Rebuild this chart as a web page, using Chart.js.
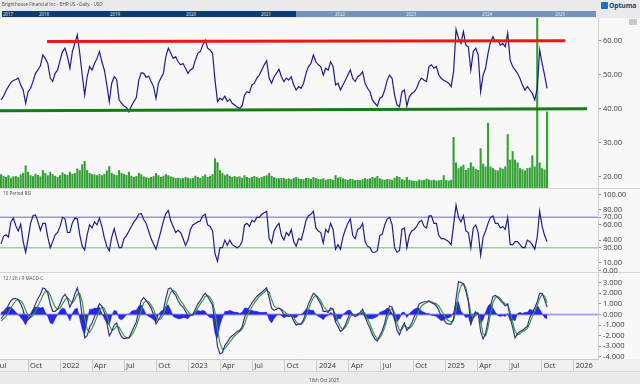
<!DOCTYPE html>
<html>
<head>
<meta charset="utf-8">
<title>BHF daily</title>
<script src="https://cdn.jsdelivr.net/npm/chart.js@4.4.1/dist/chart.umd.min.js"></script>
<style>
  body { margin: 0; width: 640px; height: 384px; position: relative; overflow: hidden; background: #eaeaea; font-family: "Open Sans", sans-serif; }
  #chart { position: absolute; left: 0; top: 0; }
  .tiny { position: absolute; font-size: 4.6px; line-height: 6px; color: #4a4a4a; white-space: nowrap; z-index: 2; }
  #nav { position: absolute; left: 2px; top: 11px; width: 594px; height: 6px; background: #7592b9; }
  #nav .past { position: absolute; left: 0; top: 0; width: 294px; height: 6px; background: #0c3b7b; }
  #nav span { position: absolute; top: 0; font-size: 4.4px; line-height: 6px; color: #e9eef7; }
  #logo { position: absolute; left: 601px; top: 1px; font-size: 6.8px; line-height: 9px; font-weight: 700; color: #1b3d78; white-space: nowrap; letter-spacing: -0.1px; }
  #logo i { display: inline-block; width: 7px; height: 7px; margin-right: 1px; vertical-align: -1px; background: #1f6fc4; border-radius: 1px; }
  #lock { position: absolute; left: 629px; top: 19px; width: 8px; height: 6px; background: #c9c9c9; z-index: 2; }
</style>
</head>
<body>
<div class="tiny" style="left:2px;top:1px;">Brighthouse Financial Inc - BHF:US - Daily - USD</div>
<div id="nav">
  <div class="past"></div>
  <span style="left:1px">2017</span><span style="left:37px">2018</span><span style="left:108px">2019</span>
  <span style="left:184px">2020</span><span style="left:259px">2021</span><span style="left:333px">2022</span>
  <span style="left:404px">2023</span><span style="left:480px">2024</span><span style="left:553px">2025</span>
</div>
<div id="logo"><i></i>Optuma</div>
<div id="lock"></div>
<canvas id="chart" width="640" height="384"></canvas>
<div class="tiny" style="left:3px;top:190px;">10 Period RSI</div>
<div class="tiny" style="left:3px;top:275px;">12 / 26 / 9 MACD-C</div>
<div class="tiny" style="left:309px;top:377px;">16th Oct 2025</div>
<script>
// weekly closes, first week ending 16 Jul 2021
const weekStart = '2021-07-16';

const price = [
  42.6, 43.7, 45.3, 46.5, 47.7, 48.3, 48.6, 49.0, 47.0, 45.5,
  41.6, 45.0, 46.0, 48.0, 50.4, 51.4, 52.6, 55.8, 54.8, 53.3,
  49.0, 48.0, 50.4, 51.4, 54.3, 56.8, 57.8, 55.3, 51.9, 56.8,
  59.2, 61.7, 56.3, 49.9, 44.0, 49.4, 52.4, 51.4, 53.3, 54.8,
  56.8, 53.8, 51.4, 47.0, 42.1, 47.5, 49.4, 48.6, 42.6, 41.6,
  40.8, 40.4, 39.1, 40.8, 42.1, 43.3, 48.4, 50.6, 50.4, 49.2,
  49.6, 48.0, 46.5, 43.0, 47.5, 49.0, 50.4, 55.3, 57.8, 56.3,
  54.8, 55.3, 53.8, 52.9, 53.3, 51.9, 50.4, 51.4, 51.9, 54.3,
  56.3, 56.8, 58.7, 60.2, 57.8, 57.3, 56.3, 48.4, 42.1, 43.1,
  42.6, 43.7, 42.1, 42.8, 41.6, 41.1, 40.4, 40.1, 40.8, 44.0,
  45.0, 44.7, 47.0, 47.5, 49.0, 49.9, 51.4, 52.9, 54.1, 49.0,
  47.5, 49.4, 50.4, 51.6, 49.4, 48.0, 49.0, 48.4, 49.4, 47.0,
  45.5, 46.5, 46.0, 47.5, 50.4, 52.4, 53.3, 55.8, 53.8, 52.9,
  52.4, 49.9, 51.9, 51.4, 53.8, 52.4, 47.0, 47.5, 45.5, 47.0,
  48.4, 49.9, 51.4, 48.9, 48.0, 49.4, 49.9, 50.9, 47.5, 46.0,
  45.0, 42.6, 41.6, 40.8, 43.1, 43.5, 45.5, 48.4, 49.9, 48.9,
  44.0, 41.1, 40.6, 45.0, 45.5, 40.8, 43.5, 44.5, 45.0, 46.0,
  48.0, 49.0, 48.4, 48.0, 52.4, 52.9, 51.9, 52.4, 49.9, 48.9,
  48.4, 48.0, 47.5, 46.5, 50.9, 63.3, 60.7, 59.2, 62.7, 58.7,
  58.2, 51.4, 56.8, 57.8, 55.8, 45.0, 49.9, 51.9, 56.3, 59.7,
  61.2, 59.7, 60.2, 58.7, 59.2, 58.2, 62.2, 54.3, 52.4, 51.4,
  50.4, 48.9, 47.0, 45.5, 46.5, 45.5, 44.5, 42.6, 46.0, 57.3,
  53.3, 49.9, 46.0
];

// thousands of shares
const volume = [
  490, 430, 390, 450, 360, 410, 420, 380, 480, 530,
  800, 570, 450, 420, 500, 460, 410, 630, 530, 450,
  570, 490, 430, 390, 450, 550, 490, 460, 570, 500,
  530, 690, 630, 840, 950, 630, 530, 490, 480, 450,
  490, 450, 500, 620, 770, 530, 480, 450, 630, 530,
  490, 460, 570, 430, 390, 420, 530, 480, 410, 380,
  360, 390, 420, 530, 450, 390, 430, 490, 450, 410,
  380, 350, 360, 340, 350, 390, 360, 340, 350, 430,
  390, 360, 420, 480, 390, 430, 490, 1050, 910, 630,
  530, 450, 490, 430, 390, 420, 380, 410, 360, 450,
  390, 360, 390, 420, 380, 360, 390, 420, 450, 530,
  430, 380, 350, 340, 360, 350, 320, 340, 310, 360,
  390, 340, 320, 310, 360, 350, 320, 390, 350, 320,
  310, 340, 290, 310, 320, 290, 450, 360, 390, 340,
  310, 290, 320, 310, 280, 290, 280, 310, 350, 320,
  340, 390, 360, 420, 340, 310, 290, 320, 310, 290,
  360, 420, 390, 310, 290, 390, 290, 270, 250, 240,
  300, 270, 290, 330, 300, 270, 290, 260, 270, 290,
  450, 280, 260, 290, 1800, 900, 700, 760, 820, 640,
  700, 900, 760, 680, 640, 1400, 860, 760, 2300, 760,
  700, 640, 620, 720, 680, 760, 1900, 1000, 1300, 1000,
  900, 700, 660, 620, 700, 720, 1150, 760, 7000, 900,
  700, 650, 2700
];

const rsi = [
  35, 45, 47, 44, 64, 69, 59, 52, 61, 38,
  24, 42, 62, 72, 73, 64, 53, 62, 62, 44,
  30, 38, 47, 50, 58, 70, 68, 50, 50, 63,
  69, 68, 47, 32, 27, 47, 60, 56, 64, 60,
  69, 58, 43, 32, 26, 44, 55, 42, 30, 30,
  42, 46, 52, 58, 64, 68, 74, 75, 67, 62,
  52, 42, 35, 28, 40, 52, 65, 75, 79, 65,
  58, 50, 53, 50, 42, 33, 40, 54, 60, 62,
  64, 65, 72, 74, 60, 58, 52, 22, 12, 30,
  30, 40, 33, 40, 34, 32, 30, 32, 38, 60,
  62, 58, 66, 64, 70, 70, 74, 76, 78, 42,
  36, 52, 58, 62, 46, 40, 50, 46, 54, 38,
  32, 42, 40, 52, 66, 72, 74, 78, 56, 52,
  50, 36, 54, 50, 62, 54, 28, 34, 28, 44,
  54, 62, 68, 46, 42, 54, 56, 62, 38, 32,
  30, 24, 24, 26, 46, 48, 60, 68, 70, 60,
  30, 24, 26, 54, 56, 30, 46, 52, 54, 58,
  64, 66, 58, 56, 72, 72, 62, 62, 46, 42,
  42, 40, 38, 34, 60, 86, 70, 64, 72, 52,
  50, 30, 56, 60, 50, 20, 44, 52, 62, 70,
  72, 62, 62, 56, 58, 54, 70, 34, 34, 38,
  38, 34, 30, 30, 40, 38, 34, 28, 44, 78,
  58, 46, 38
];

const macd = [
  -0.4, -0.1, 0.4, 0.9, 1.3, 1.5, 1.5, 1.4, 1.0, 0.4,
  -0.6, -0.5, -0.2, 0.4, 1.0, 1.5, 1.9, 2.5, 2.4, 2.0,
  1.0, 0.3, 0.3, 0.5, 1.0, 1.6, 1.9, 1.5, 0.7, 1.2,
  1.9, 2.5, 1.6, -0.2, -2.2, -2.0, -1.2, -0.8, -0.2, 0.4,
  1.0, 0.8, 0.2, -0.8, -2.0, -1.6, -1.0, -0.8, -1.6, -2.1,
  -2.3, -2.2, -2.2, -1.7, -1.2, -0.7, 0.4, 1.3, 1.6, 1.3,
  1.0, 0.6, 0.0, -0.9, -0.5, -0.1, 0.4, 1.5, 2.4, 2.5,
  2.1, 1.8, 1.3, 0.9, 0.7, 0.3, -0.1, -0.1, 0.0, 0.5,
  1.0, 1.3, 1.7, 2.0, 1.7, 1.3, 0.9, -1.0, -3.0, -3.7,
  -3.6, -2.9, -2.6, -2.2, -2.0, -1.8, -1.6, -1.5, -1.2, -0.3,
  0.4, 0.7, 1.1, 1.4, 1.7, 1.9, 2.1, 2.3, 2.5, 1.6,
  0.6, 0.4, 0.5, 0.6, 0.4, 0.0, -0.1, -0.2, -0.1, -0.6,
  -1.0, -0.9, -0.9, -0.5, 0.3, 1.0, 1.5, 2.0, 1.8, 1.4,
  1.0, 0.3, 0.3, 0.2, 0.6, 0.5, -0.7, -1.1, -1.6, -1.4,
  -1.0, -0.4, 0.2, 0.0, -0.2, 0.0, 0.2, 0.5, -0.2, -0.8,
  -1.3, -1.9, -2.3, -2.5, -2.0, -1.5, -0.8, 0.2, 0.8, 0.7,
  -0.4, -1.5, -1.9, -1.2, -0.8, -1.5, -1.2, -0.8, -0.2, 0.4,
  1.0, 1.1, 1.2, 1.2, 1.3, 1.1, 1.0, 0.8, 0.4, -0.2,
  -0.5, -0.8, -0.9, -0.9, -0.4, 1.5, 3.1, 3.0, 2.9, 2.2,
  1.2, -0.9, -0.3, 0.2, 0.1, -1.6, -2.3, -1.8, -0.6, 0.8,
  1.7, 1.8, 1.6, 1.3, 1.1, 0.8, 1.0, -0.3, -1.2, -2.2,
  -1.8, -1.6, -1.5, -1.3, -1.1, -0.3, 0.2, 0.6, 1.2, 2.0,
  2.0, 1.4, 0.7
];

const signal = [
  -0.6, -0.4, -0.2, 0.2, 0.6, 1.0, 1.3, 1.4, 1.3, 1.0,
  0.4, -0.1, -0.3, -0.1, 0.3, 0.8, 1.3, 1.8, 2.2, 2.2,
  1.8, 1.2, 0.7, 0.5, 0.6, 1.0, 1.4, 1.6, 1.3, 1.1,
  1.4, 1.9, 2.0, 1.2, -0.3, -1.4, -1.7, -1.3, -0.8, -0.2,
  0.3, 0.7, 0.6, 0.0, -1.0, -1.5, -1.4, -1.1, -1.2, -1.6,
  -2.0, -2.2, -2.2, -2.0, -1.6, -1.1, -0.4, 0.4, 1.1, 1.3,
  1.2, 0.9, 0.5, -0.2, -0.5, -0.4, 0.0, 0.7, 1.5, 2.1,
  2.3, 2.1, 1.7, 1.3, 1.0, 0.6, 0.3, 0.0, -0.1, 0.2,
  0.6, 1.0, 1.3, 1.7, 1.8, 1.6, 1.2, 0.2, -1.4, -2.7,
  -3.3, -3.2, -2.9, -2.6, -2.3, -2.0, -1.8, -1.6, -1.4, -0.9,
  -0.2, 0.3, 0.7, 1.1, 1.4, 1.7, 1.9, 2.1, 2.3, 2.1,
  1.4, 0.8, 0.6, 0.6, 0.5, 0.3, 0.1, -0.1, -0.1, -0.3,
  -0.7, -0.9, -0.9, -0.7, -0.2, 0.5, 1.1, 1.6, 1.8, 1.6,
  1.3, 0.8, 0.5, 0.3, 0.4, 0.5, 0.0, -0.7, -1.2, -1.4,
  -1.2, -0.8, -0.2, 0.0, -0.1, -0.1, 0.1, 0.3, 0.1, -0.4,
  -0.9, -1.5, -2.0, -2.3, -2.2, -1.8, -1.2, -0.4, 0.3, 0.6,
  0.2, -0.8, -1.5, -1.4, -1.0, -1.2, -1.3, -1.1, -0.7, -0.2,
  0.4, 0.8, 1.0, 1.1, 1.2, 1.2, 1.1, 1.0, 0.8, 0.4,
  0.0, -0.4, -0.6, -0.7, -0.6, 0.4, 1.9, 2.7, 2.9, 2.5,
  1.4, 0.1, -0.3, -0.1, 0.1, -0.7, -1.8, -2.0, -1.2, 0.0,
  1.1, 1.6, 1.7, 1.5, 1.2, 1.0, 0.9, 0.3, -0.7, -1.6,
  -1.9, -1.8, -1.6, -1.5, -1.3, -0.8, -0.2, 0.3, 0.8, 1.5,
  1.9, 1.7, 1.1
];

const histogram = [
  0.2, 0.3, 0.6, 0.7, 0.7, 0.5, 0.2, 0.0, -0.3, -0.6,
  -1.0, -0.4, 0.1, 0.5, 0.7, 0.7, 0.6, 0.7, 0.2, -0.2,
  -0.8, -0.9, -0.4, 0.0, 0.4, 0.6, 0.5, -0.1, -0.6, 0.1,
  0.5, 0.6, -0.4, -1.4, -1.9, -0.6, 0.5, 0.5, 0.6, 0.6,
  0.7, 0.1, -0.4, -0.8, -1.0, -0.1, 0.4, 0.3, -0.4, -0.5,
  -0.3, 0.0, 0.0, 0.3, 0.4, 0.4, 0.8, 0.9, 0.5, 0.0,
  -0.2, -0.3, -0.5, -0.7, 0.0, 0.3, 0.4, 0.8, 0.9, 0.4,
  -0.2, -0.3, -0.4, -0.4, -0.3, -0.3, -0.4, -0.1, 0.1, 0.3,
  0.4, 0.3, 0.4, 0.3, -0.1, -0.3, -0.3, -1.8, -2.2, -1.0,
  -0.3, 0.3, 0.3, 0.4, 0.3, 0.2, 0.2, 0.1, 0.2, 0.6,
  0.6, 0.4, 0.4, 0.3, 0.3, 0.2, 0.2, 0.2, 0.2, -0.5,
  -0.8, -0.4, -0.1, 0.0, -0.1, -0.3, -0.2, -0.1, 0.0, -0.3,
  -0.3, 0.0, 0.0, 0.2, 0.5, 0.5, 0.4, 0.4, 0.0, -0.2,
  -0.3, -0.5, -0.2, -0.1, 0.2, 0.0, -0.7, -0.4, -0.4, 0.0,
  0.2, 0.4, 0.4, 0.0, -0.1, 0.1, 0.1, 0.2, -0.3, -0.4,
  -0.4, -0.4, -0.3, -0.2, 0.2, 0.3, 0.4, 0.6, 0.5, 0.1,
  -0.6, -0.7, -0.4, 0.2, 0.2, -0.3, 0.1, 0.3, 0.5, 0.6,
  0.6, 0.3, 0.2, 0.1, 0.1, -0.1, -0.1, -0.2, -0.4, -0.6,
  -0.5, -0.4, -0.3, -0.2, 0.2, 1.1, 1.2, 0.3, 0.0, -0.3,
  -0.2, -1.0, 0.0, 0.3, 0.0, -0.9, -0.5, 0.2, 0.8, 1.0,
  0.6, 0.2, -0.1, -0.2, -0.1, -0.2, 0.1, -0.6, -0.5, -0.6,
  0.1, 0.2, 0.1, 0.2, 0.2, 0.5, 0.4, 0.3, 0.9, 0.5,
  0.1, -0.3, -0.4
];

// trend lines drawn on the price panel
const resistanceDates = ['2021-11-24', '2025-12-08'];
const resistanceLevels = [59.8, 60.0];
const supportDates = ['2021-07-01', '2026-02-08'];
const supportLevels = [39.4, 40.0];

const rsiLevels = [70, 30];
const priceTicks = [20, 30, 40, 50, 60];
const rsiTicks = [0, 10, 30, 40, 60, 70, 80, 100];
const macdTicks = [-4, -3, -2, -1, 0, 1, 2, 3];

const xRange = ['2021-07-13', '2026-03-11'];
const xTickDates = ['2021-07-01', '2021-10-01', '2022-01-01', '2022-04-01', '2022-07-01', '2022-10-01',
  '2023-01-01', '2023-04-01', '2023-07-01', '2023-10-01', '2024-01-01', '2024-04-01', '2024-07-01',
  '2024-10-01', '2025-01-01', '2025-04-01', '2025-07-01', '2025-10-01', '2026-01-01'];
const xTickLabels = ['Jul', 'Oct', '2022', 'Apr', 'Jul', 'Oct', '2023', 'Apr', 'Jul', 'Oct', '2024',
  'Apr', 'Jul', 'Oct', '2025', 'Apr', 'Jul', 'Oct', '2026'];


const WEEK = 7 * 86400000;
const t0 = Date.parse(weekStart);
const xMin = Date.parse(xRange[0]);
const xMax = Date.parse(xRange[1]);

function weekly(values) {
    return values.map((v, i) => ({ x: t0 + i * WEEK, y: v }));
}

function segment(dates, levels) {
    return dates.map((d, i) => ({ x: Date.parse(d), y: levels[i] }));
}

function level(v) {
    return [{ x: xMin, y: v }, { x: xMax, y: v }];
}

// right hand axes, one per panel, stacked top to bottom
function panelAxis(min, max, list, decimals, weight) {
    return {
        type: 'linear',
        position: 'right',
        stack: 'panels',
        stackWeight: weight,
        min: min,
        max: max,
        afterBuildTicks: (scale) => { scale.ticks = list.map(v => ({ value: v })); },
        afterFit: (scale) => { scale.width = 42; scale.paddingTop = 0; scale.paddingBottom = 0; },
        grid: { drawOnChartArea: false, tickLength: 3, color: '#8d8d8d' },
        border: { color: '#d0d0d0' },
        ticks: { autoSkip: false, padding: 2, callback: (v) => v.toFixed(decimals) }
    };
}

// volume lives on its own hidden axis, squeezed into the price panel
const volumePanel = {
    id: 'volumePanel',
    afterLayout(chart) {
        const vol = chart.scales.yVol;
        const p = chart.scales.y;
        vol.top = p.top;
        vol.bottom = p.bottom;
        vol.height = p.bottom - p.top;
        vol.configure();
    }
};

const backdrop = {
    id: 'backdrop',
    beforeDraw(chart) {
        const { ctx, chartArea, scales } = chart;
        ctx.save();
        ctx.fillStyle = '#f8f8f8';
        ctx.fillRect(0, chartArea.top, chart.width, scales.x.bottom - chartArea.top);
        ctx.fillStyle = '#f1f1f1';
        ctx.fillRect(0, scales.x.top, chart.width, scales.x.bottom - scales.x.top);
        ctx.strokeStyle = '#d5d5d5';
        ctx.lineWidth = 1;
        [scales.yRsi.top, scales.yMacd.top, scales.x.bottom].forEach(y => {
            const yy = Math.round(y) + 0.5;
            ctx.beginPath();
            ctx.moveTo(0, yy);
            ctx.lineTo(chart.width, yy);
            ctx.stroke();
        });
        ctx.restore();
    }
};

Chart.defaults.font.family = '"Open Sans", sans-serif';
Chart.defaults.font.size = 7.5;
Chart.defaults.color = '#3a3a3a';

const line = (data, axis, color, width, extra) => Object.assign({
    type: 'line', data: data, yAxisID: axis, borderColor: color, borderWidth: width,
    pointRadius: 0, tension: 0, fill: false, order: 2
}, extra || {});

new Chart(document.getElementById('chart'), {
    type: 'line',
    data: {
        datasets: [
            { type: 'bar', data: weekly(volume), yAxisID: 'yVol', backgroundColor: '#33a033',
              barPercentage: 0.85, categoryPercentage: 1, order: 9 },
            line(weekly(price), 'y', '#1d1d8c', 1.2),
            line(segment(resistanceDates, resistanceLevels), 'y', '#f01515', 3, { order: 1 }),
            line(segment(supportDates, supportLevels), 'y', '#177a17', 3, { order: 1 }),
            line(level(rsiLevels[0]), 'yRsi', '#9898dc', 1.5, { order: 4 }),
            line(level(rsiLevels[1]), 'yRsi', '#9fd09f', 1.5, { order: 4 }),
            line(weekly(rsi), 'yRsi', '#1d1d8c', 1.2),
            line(level(0), 'yMacd', '#a4a4f4', 2, { order: 6 }),
            line(weekly(histogram), 'yMacd', '#2323ee', 0.5, { fill: 'origin', backgroundColor: '#2626f0', order: 5 }),
            line(weekly(macd), 'yMacd', '#34348c', 1.2),
            line(weekly(signal), 'yMacd', '#3f9a3f', 1.2)
        ]
    },
    options: {
        responsive: false,
        animation: false,
        events: [],
        layout: { padding: { top: 18, bottom: 13, left: 0, right: 0 } },
        plugins: { legend: { display: false }, tooltip: { enabled: false } },
        scales: {
            x: {
                type: 'linear',
                min: xMin,
                max: xMax,
                offset: false,
                afterBuildTicks: (scale) => { scale.ticks = xTickDates.map(d => ({ value: Date.parse(d) })); },
                afterFit: (scale) => { scale.height = 12; scale.paddingLeft = 0; scale.paddingRight = 0; },
                grid: { offset: false, drawOnChartArea: false, tickLength: 12, color: '#cdcdcd' },
                border: { color: '#c8c8c8' },
                ticks: { align: 'start', labelOffset: 2, padding: -10, maxRotation: 0, autoSkip: false,
                         color: '#333', callback: (v, i) => xTickLabels[i] }
            },
            y: panelAxis(16.68, 66.68, priceTicks, 2, 170),
            yRsi: panelAxis(-2.0, 108.6, rsiTicks, 2, 84),
            yMacd: panelAxis(-4.19, 4.0, macdTicks, 3, 87),
            yVol: { type: 'linear', display: false, min: 0, max: 6000 }
        }
    },
    plugins: [backdrop, volumePanel]
});
</script>
</body>
</html>
